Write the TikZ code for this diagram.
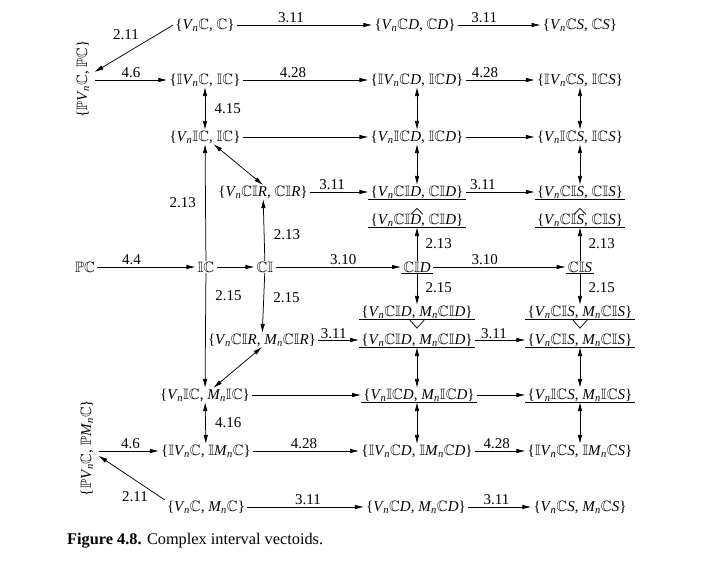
\documentclass[tikz,border=0pt]{standalone}
\usepackage{amssymb}
\usepackage{fontspec}
\setmainfont{Liberation Serif}
\usetikzlibrary{arrows.meta,calc}
\newcommand\dC{\ensuremath{\mathbb{C}}}
\newcommand\dI{\ensuremath{\mathbb{I}}}
\newcommand\dP{\ensuremath{\mathbb{P}}}
\newcommand\Vn{\textit{V}\kern-0.04em\textsubscript{\textit{n}}}
\newcommand\Mn{\textit{M}\kern-0.02em\textsubscript{\textit{n}}}
\tikzset{
  every node/.style={font=\fontsize{15}{17}\selectfont},
  tx/.style={inner xsep=2pt, inner ysep=0.5pt},
  arr/.style={-{Latex[length=9pt,width=4.5pt]}, line width=0.75pt},
  darr/.style={{Latex[length=9pt,width=4.5pt]}-{Latex[length=9pt,width=4.5pt]}, line width=0.75pt},
  lbl/.style={above, inner sep=2pt},
  uline/.style={line width=0.7pt},
}
\begin{document}
\begin{tikzpicture}[x=1pt,y=-1pt]
\useasboundingbox (0,0) rectangle (720,567);
% row A
\node[tx] (vc) at (205,25) {\{\Vn\dC, \dC\}};
\node[tx] (vcd) at (415,25) {\{\Vn\dC\textit{D}, \dC\textit{D}\}};
\node[tx] (vcs) at (580,25) {\{\Vn\dC\textit{S}, \dC\textit{S}\}};
% row B
\node[tx, rotate=90, inner ysep=5pt] (pvc) at (83,79) {\{\dP\Vn\dC, \dP\dC\}};
\node[tx] (ivc) at (205,80) {\{\dI\Vn\dC, \dI\dC\}};
\node[tx] (ivcd) at (417,80) {\{\dI\Vn\dC\textit{D}, \dI\dC\textit{D}\}};
\node[tx] (ivcs) at (580,80) {\{\dI\Vn\dC\textit{S}, \dI\dC\textit{S}\}};
% row C
\node[tx] (vic) at (205,137) {\{\Vn\dI\dC, \dI\dC\}};
\node[tx] (vicd) at (417,137) {\{\Vn\dI\dC\textit{D}, \dI\dC\textit{D}\}};
\node[tx] (vics) at (580,137) {\{\Vn\dI\dC\textit{S}, \dI\dC\textit{S}\}};
% row D
\node[tx] (vcir) at (263,192) {\{\Vn\dC\dI\textit{R}, \dC\dI\textit{R}\}};
\node[tx] (dA) at (417,192) {\{\Vn\dC\dI\textit{D}, \dC\dI\textit{D}\}};
\node[tx] (dB) at (417,220) {\{\Vn\dC\dI\textit{D}, \dC\dI\textit{D}\}};
\node[tx] (sA) at (580,192) {\{\Vn\dC\dI\textit{S}, \dC\dI\textit{S}\}};
\node[tx] (sB) at (580,220) {\{\Vn\dC\dI\textit{S}, \dC\dI\textit{S}\}};
% row E
\node[tx] (pc) at (85,267) {\dP\dC};
\node[tx] (ic) at (206,267) {\dI\dC};
\node[tx] (ci) at (265,267) {\dC\dI};
\node[tx] (cid) at (417,267) {\dC\dI\textit{D}};
\node[tx] (cis) at (580,267) {\dC\dI\textit{S}};
% row F
\node[tx] (dC) at (417,312) {\{\Vn\dC\dI\textit{D}, \Mn\dC\dI\textit{D}\}};
\node[tx] (dD) at (417,340) {\{\Vn\dC\dI\textit{D}, \Mn\dC\dI\textit{D}\}};
\node[tx] (sC) at (580,312) {\{\Vn\dC\dI\textit{S}, \Mn\dC\dI\textit{S}\}};
\node[tx] (sD) at (580,340) {\{\Vn\dC\dI\textit{S}, \Mn\dC\dI\textit{S}\}};
\node[tx] (vcirm) at (262,340) {\{\Vn\dC\dI\textit{R}, \Mn\dC\dI\textit{R}\}};
% row G
\node[tx] (vim) at (205,395) {\{\Vn\dI\dC, \Mn\dI\dC\}};
\node[tx] (vimd) at (419,395) {\{\Vn\dI\dC\textit{D}, \Mn\dI\dC\textit{D}\}};
\node[tx] (vims) at (580,395) {\{\Vn\dI\dC\textit{S}, \Mn\dI\dC\textit{S}\}};
% row H
\node[tx, rotate=90, inner ysep=5pt] (pvm) at (87,448) {\{\dP\Vn\dC, \dP\Mn\dC\}};
\node[tx] (ivm) at (206,451) {\{\dI\Vn\dC, \dI\Mn\dC\}};
\node[tx] (ivmd) at (417,451) {\{\dI\Vn\dC\textit{D}, \dI\Mn\dC\textit{D}\}};
\node[tx] (ivms) at (580,451) {\{\dI\Vn\dC\textit{S}, \dI\Mn\dC\textit{S}\}};
% row I
\node[tx] (vm) at (206,507) {\{\Vn\dC, \Mn\dC\}};
\node[tx] (vmd) at (416,507) {\{\Vn\dC\textit{D}, \Mn\dC\textit{D}\}};
\node[tx] (vms) at (580,507) {\{\Vn\dC\textit{S}, \Mn\dC\textit{S}\}};
% caption
\node[anchor=west, inner sep=0pt, font=\fontsize{16.3}{19}\selectfont] (cap) at (67,541) {\textbf{Figure 4.8.} Complex interval vectoids.};

% underlines, hats, vees
\foreach \n in {dA,dB,dC,dD,sA,sB,sC,sD,cid,cis,vimd,vims}
  \draw[uline] (\n.south west) -- (\n.south east);
\foreach \n in {dB,sB}
  \draw[uline] ($(\n.north)+(-6,1.5)$) -- ($(\n.north)+(0,-4.5)$) -- ($(\n.north)+(6,1.5)$);
\foreach \n in {dC,sC}
  \draw[uline] ($(\n.south)+(-8,0)$) -- ($(\n.south)+(0,9)$) -- ($(\n.south)+(8,0)$);

% row A
\draw[arr] (vc) -- (vcd) node[lbl,pos=0.4]{3.11};
\draw[arr] (vcd) -- (vcs) node[lbl,pos=0.32]{3.11};
\draw[arr] (vc.west) -- (pvc) node[pos=0.6,above=10pt]{2.11};
% row B
\draw[arr] (pvc.south |- ivc) -- (ivc) node[lbl,pos=0.5]{4.6};
\draw[arr] (ivc) -- (ivcd) node[lbl,pos=0.4]{4.28};
\draw[arr] (ivcd) -- (ivcs) node[lbl,pos=0.28]{4.28};
\draw[darr] (ivc) -- (vic) node[midway,right=6pt]{4.15};
\draw[darr] (ivcd) -- (vicd);
\draw[darr] (ivcs) -- (vics);
% row C
\draw[arr] (vic) -- (vicd);
\draw[arr] (vicd) -- (vics);
\draw[darr] (vicd) -- (dA);
\draw[darr] (vics) -- (sA);
\draw[darr] (vic) -- (vcir.north);
% row D
\draw[arr] (vcir) -- (dA) node[lbl,pos=0.38]{3.11};
\draw[arr] (dA) -- (sA) node[lbl,pos=0.25]{3.11};
% row E
\draw[arr] (ic) -- (vic) node[midway,left=6pt]{2.13};
\draw[arr] (ci) -- (vcir) node[pos=0.42,right=6pt]{2.13};
\draw[arr] (cid) -- (dB) node[pos=0.5,right=5pt]{2.13};
\draw[arr] (cis) -- (sB) node[pos=0.5,right=5pt]{2.13};
\draw[arr] (pc) -- (ic) node[lbl,pos=0.35]{4.4};
\draw[arr] (ic) -- (ci);
\draw[arr] (ci) -- (cid) node[lbl,pos=0.54]{3.10};
\draw[arr] (cid) -- (cis) node[lbl,pos=0.39]{3.10};
\draw[arr] (ic) -- (vim) node[pos=0.2,right=6pt]{2.15};
\draw[arr] (ci) -- (vcirm) node[pos=0.41,right=6pt]{2.15};
\draw[arr] (cid) -- (dC) node[pos=0.45,right=5pt]{2.15};
\draw[arr] (cis) -- (sC) node[pos=0.45,right=5pt]{2.15};
% row F
\draw[arr] (vcirm) -- (dD) node[lbl,pos=0.38,inner sep=0.5pt]{3.11};
\draw[arr] (dD) -- (sD) node[lbl,pos=0.38,inner sep=0.5pt]{3.11};
\draw[darr] (vcirm.south) -- (vim);
\draw[darr] (dD.south) -- (dD.south |- vimd.north);
\draw[darr] (sD) -- (vims);
% row G
\draw[arr] (vim) -- (vimd);
\draw[arr] (vimd) -- (vims);
\draw[darr] (vim) -- (ivm) node[midway,right=6pt]{4.16};
\draw[darr] (ivmd.north |- vimd.south) -- (ivmd);
\draw[darr] (vims) -- (ivms);
% row H
\draw[arr] (pvm.south |- ivm) -- (ivm) node[lbl,pos=0.53]{4.6};
\draw[arr] (ivm) -- (ivmd) node[lbl,pos=0.48]{4.28};
\draw[arr] (ivmd) -- (ivms) node[lbl,pos=0.43]{4.28};
% row I
\draw[arr] (vm.north west) -- (pvm) node[pos=0.45,below=8pt]{2.11};
\draw[arr] (vm) -- (vmd) node[lbl,pos=0.52]{3.11};
\draw[arr] (vmd) -- (vms) node[lbl,pos=0.45]{3.11};
\end{tikzpicture}
\end{document}
